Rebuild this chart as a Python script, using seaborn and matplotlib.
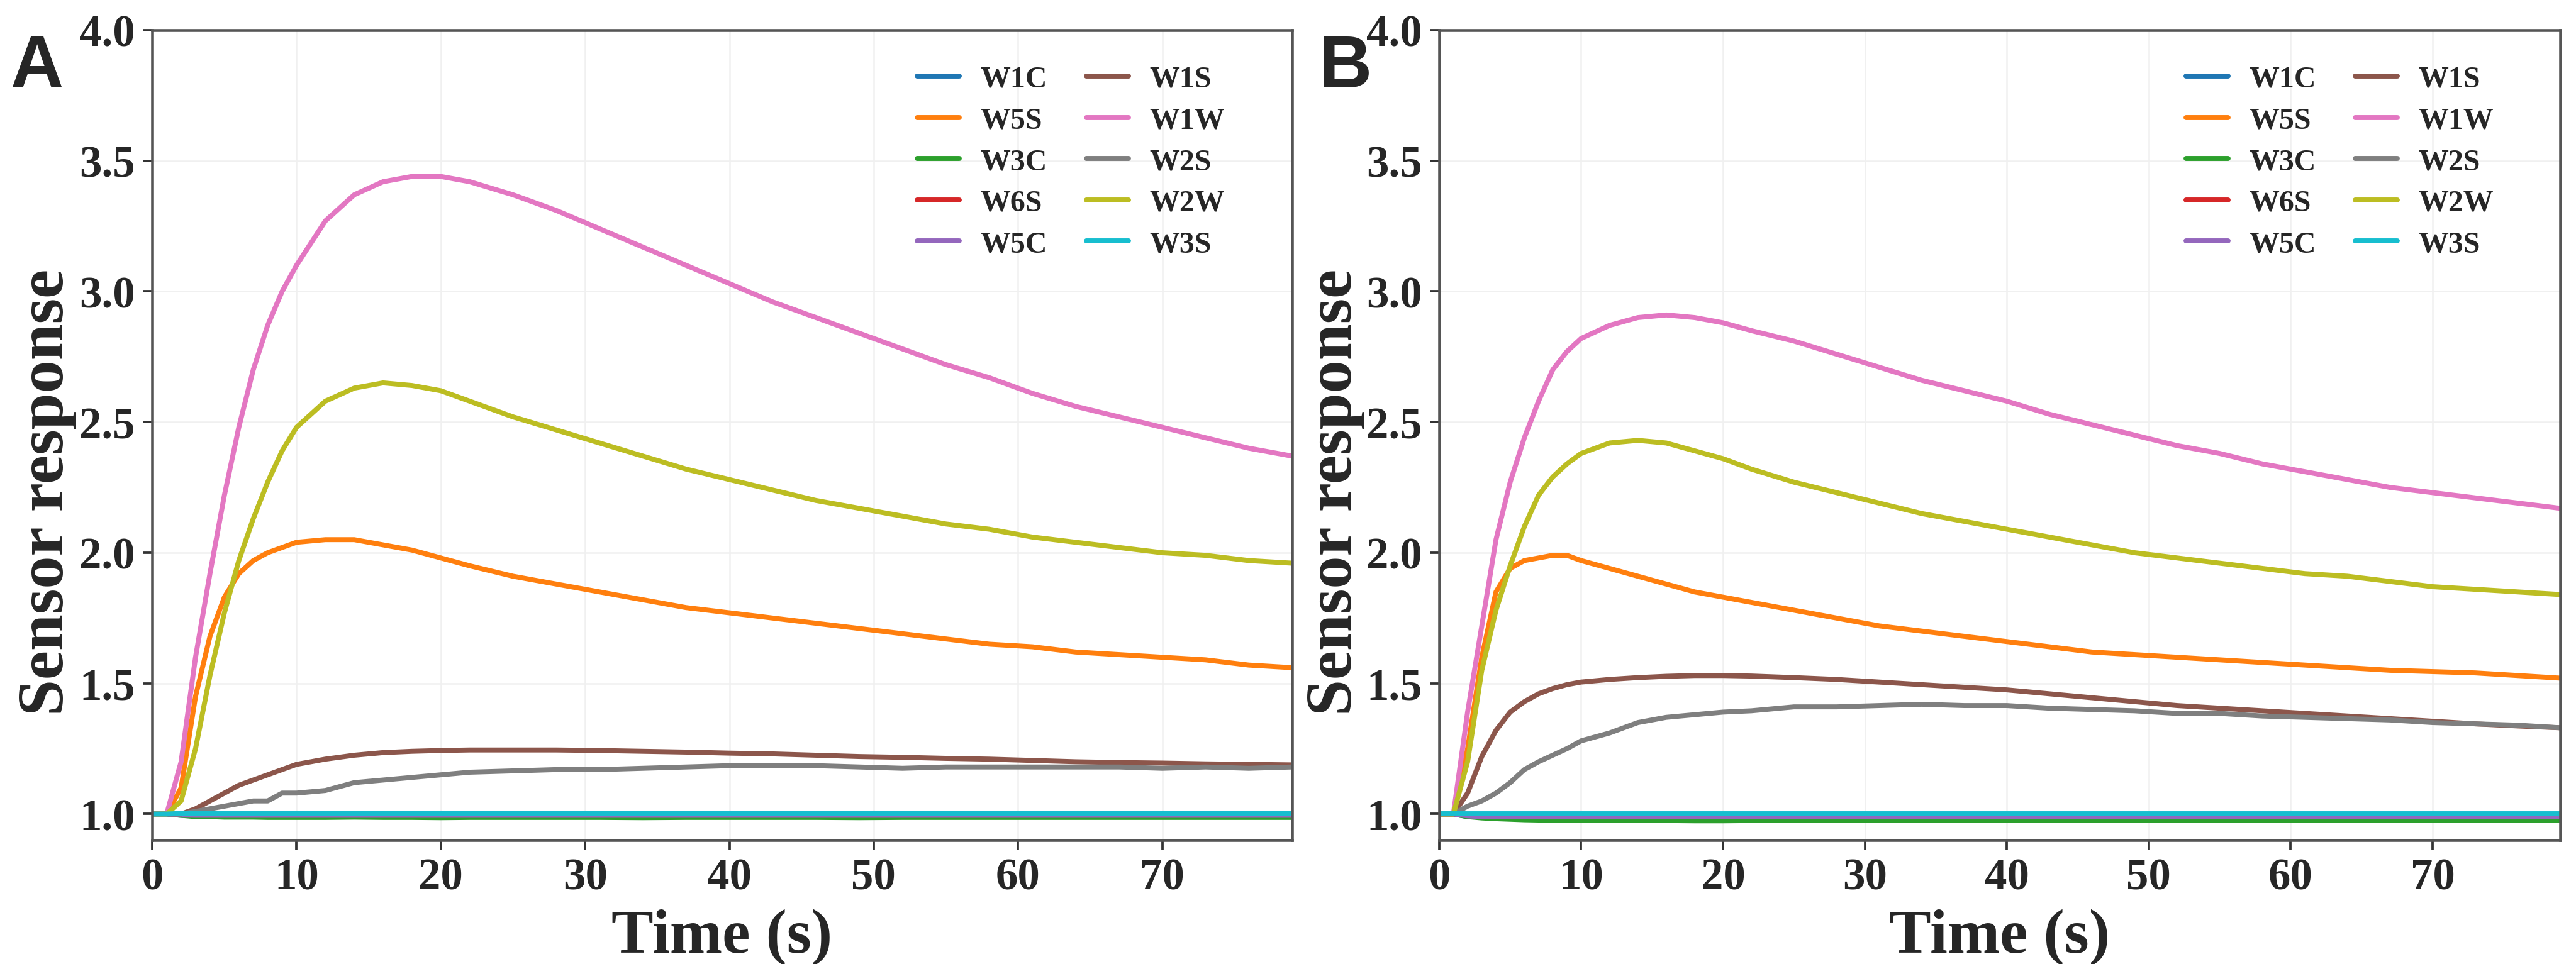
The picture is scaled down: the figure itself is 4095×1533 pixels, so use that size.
import matplotlib
matplotlib.use('Agg')
import matplotlib.pyplot as plt
import seaborn as sns
import pandas as pd

# sample times (s)
time = [0, 1, 2, 3, 4, 5, 6, 7, 8, 9, 10, 12, 14, 16, 18, 20, 22, 25, 28, 31,
        34, 37, 40, 43, 46, 49, 52, 55, 58, 61, 64, 67, 70, 73, 76, 79]

sensors = ['W1C', 'W5S', 'W3C', 'W6S', 'W5C', 'W1S', 'W1W', 'W2S', 'W2W', 'W3S']

# ---- panel A ----
a_W1C = [1.0, 1.0, 0.995, 0.994, 0.994, 0.993, 0.993, 0.993, 0.993, 0.993, 0.993, 0.993, 0.993, 0.993, 0.992, 0.992, 0.993, 0.993,
         0.993, 0.993, 0.993, 0.993, 0.993, 0.993, 0.993, 0.993, 0.993, 0.993, 0.993, 0.993, 0.993, 0.993, 0.993, 0.993, 0.993, 0.993]
a_W5S = [1.0, 1.0, 1.1, 1.45, 1.68, 1.83, 1.92, 1.97, 2.0, 2.02, 2.04, 2.05, 2.05, 2.03, 2.01, 1.98, 1.95, 1.91,
         1.88, 1.85, 1.82, 1.79, 1.77, 1.75, 1.73, 1.71, 1.69, 1.67, 1.65, 1.64, 1.62, 1.61, 1.6, 1.59, 1.57, 1.56]
a_W3C = [1.0, 1.0, 0.995, 0.99, 0.99, 0.988, 0.988, 0.988, 0.987, 0.987, 0.987, 0.987, 0.988, 0.987, 0.987, 0.986, 0.987, 0.987,
         0.987, 0.987, 0.986, 0.987, 0.987, 0.987, 0.987, 0.986, 0.987, 0.987, 0.987, 0.987, 0.987, 0.987, 0.987, 0.987, 0.987, 0.987]
a_W6S = [1.0, 1.0, 0.998, 0.997, 0.997, 0.997, 0.997, 0.997, 0.997, 0.997, 0.997, 0.997, 0.997, 0.997, 0.997, 0.997, 0.997, 0.997,
         0.997, 0.997, 0.997, 0.997, 0.997, 0.997, 0.997, 0.997, 0.997, 0.997, 0.997, 0.997, 0.997, 0.997, 0.997, 0.997, 0.997, 0.997]
a_W5C = [1.0, 1.0, 0.996, 0.995, 0.995, 0.995, 0.995, 0.995, 0.995, 0.995, 0.995, 0.995, 0.995, 0.995, 0.995, 0.995, 0.995, 0.995,
         0.995, 0.995, 0.995, 0.995, 0.995, 0.995, 0.995, 0.995, 0.995, 0.995, 0.995, 0.995, 0.995, 0.995, 0.995, 0.995, 0.995, 0.995]
a_W1S = [1.0, 1.0, 1.0, 1.02, 1.05, 1.08, 1.11, 1.13, 1.15, 1.17, 1.19, 1.21, 1.225, 1.235, 1.24, 1.243, 1.245, 1.245,
         1.245, 1.243, 1.24, 1.237, 1.233, 1.23, 1.225, 1.22, 1.217, 1.213, 1.21, 1.205, 1.2, 1.197, 1.195, 1.192, 1.19, 1.188]
a_W1W = [1.0, 1.0, 1.2, 1.6, 1.92, 2.22, 2.48, 2.7, 2.87, 3.0, 3.1, 3.27, 3.37, 3.42, 3.44, 3.44, 3.42, 3.37,
         3.31, 3.24, 3.17, 3.1, 3.03, 2.96, 2.9, 2.84, 2.78, 2.72, 2.67, 2.61, 2.56, 2.52, 2.48, 2.44, 2.4, 2.37]
a_W2S = [1.0, 1.0, 1.0, 1.01, 1.02, 1.03, 1.04, 1.05, 1.05, 1.08, 1.08, 1.09, 1.12, 1.13, 1.14, 1.15, 1.16, 1.165,
         1.17, 1.17, 1.175, 1.18, 1.185, 1.185, 1.185, 1.18, 1.175, 1.18, 1.18, 1.18, 1.18, 1.18, 1.175, 1.18, 1.175, 1.18]
a_W2W = [1.0, 1.0, 1.05, 1.25, 1.53, 1.77, 1.97, 2.13, 2.27, 2.39, 2.48, 2.58, 2.63, 2.65, 2.64, 2.62, 2.58, 2.52,
         2.47, 2.42, 2.37, 2.32, 2.28, 2.24, 2.2, 2.17, 2.14, 2.11, 2.09, 2.06, 2.04, 2.02, 2.0, 1.99, 1.97, 1.96]
a_W3S = [1.0, 1.0, 1.002, 1.002, 1.002, 1.002, 1.002, 1.002, 1.002, 1.002, 1.002, 1.002, 1.002, 1.002, 1.002, 1.002, 1.002, 1.002,
         1.002, 1.002, 1.002, 1.002, 1.002, 1.002, 1.002, 1.002, 1.002, 1.002, 1.002, 1.002, 1.002, 1.002, 1.002, 1.002, 1.002, 1.002]

# ---- panel B ----
b_W1C = [1.0, 1.0, 0.99, 0.99, 0.988, 0.988, 0.988, 0.988, 0.988, 0.988, 0.988, 0.988, 0.988, 0.988, 0.988, 0.988, 0.988, 0.988,
         0.988, 0.988, 0.988, 0.988, 0.988, 0.988, 0.988, 0.988, 0.988, 0.988, 0.988, 0.988, 0.988, 0.988, 0.988, 0.988, 0.988, 0.988]
b_W5S = [1.0, 1.0, 1.25, 1.6, 1.85, 1.94, 1.97, 1.98, 1.99, 1.99, 1.97, 1.94, 1.91, 1.88, 1.85, 1.83, 1.81, 1.78,
         1.75, 1.72, 1.7, 1.68, 1.66, 1.64, 1.62, 1.61, 1.6, 1.59, 1.58, 1.57, 1.56, 1.55, 1.545, 1.54, 1.53, 1.52]
b_W3C = [1.0, 1.0, 0.99, 0.985, 0.982, 0.98, 0.978, 0.977, 0.976, 0.976, 0.975, 0.975, 0.975, 0.975, 0.974, 0.974, 0.975, 0.975,
         0.975, 0.975, 0.975, 0.975, 0.975, 0.975, 0.976, 0.976, 0.976, 0.976, 0.976, 0.976, 0.976, 0.976, 0.976, 0.976, 0.976, 0.976]
b_W6S = [1.0, 1.0, 0.995, 0.993, 0.993, 0.992, 0.992, 0.992, 0.992, 0.992, 0.992, 0.992, 0.992, 0.992, 0.992, 0.992, 0.992, 0.992,
         0.992, 0.992, 0.992, 0.992, 0.992, 0.992, 0.992, 0.992, 0.992, 0.992, 0.992, 0.992, 0.992, 0.992, 0.992, 0.992, 0.992, 0.992]
b_W5C = [1.0, 1.0, 0.993, 0.99, 0.99, 0.99, 0.99, 0.99, 0.99, 0.99, 0.99, 0.99, 0.99, 0.99, 0.99, 0.99, 0.99, 0.99,
         0.99, 0.99, 0.99, 0.99, 0.99, 0.99, 0.99, 0.99, 0.99, 0.99, 0.99, 0.99, 0.99, 0.99, 0.99, 0.99, 0.99, 0.99]
b_W1S = [1.0, 1.0, 1.08, 1.22, 1.32, 1.39, 1.43, 1.46, 1.48, 1.495, 1.505, 1.515, 1.522, 1.527, 1.53, 1.53, 1.528, 1.522,
         1.515, 1.505, 1.495, 1.485, 1.475, 1.46, 1.445, 1.43, 1.415, 1.405, 1.395, 1.385, 1.375, 1.365, 1.355, 1.345, 1.337, 1.33]
b_W1W = [1.0, 1.0, 1.39, 1.72, 2.05, 2.27, 2.44, 2.58, 2.7, 2.77, 2.82, 2.87, 2.9, 2.91, 2.9, 2.88, 2.85, 2.81,
         2.76, 2.71, 2.66, 2.62, 2.58, 2.53, 2.49, 2.45, 2.41, 2.38, 2.34, 2.31, 2.28, 2.25, 2.23, 2.21, 2.19, 2.17]
b_W2S = [1.0, 1.0, 1.03, 1.05, 1.08, 1.12, 1.17, 1.2, 1.225, 1.25, 1.28, 1.31, 1.35, 1.37, 1.38, 1.39, 1.395, 1.41,
         1.41, 1.415, 1.42, 1.415, 1.415, 1.405, 1.4, 1.395, 1.385, 1.385, 1.375, 1.37, 1.365, 1.36, 1.35, 1.345, 1.34, 1.33]
b_W2W = [1.0, 1.0, 1.2, 1.55, 1.78, 1.95, 2.1, 2.22, 2.29, 2.34, 2.38, 2.42, 2.43, 2.42, 2.39, 2.36, 2.32, 2.27,
         2.23, 2.19, 2.15, 2.12, 2.09, 2.06, 2.03, 2.0, 1.98, 1.96, 1.94, 1.92, 1.91, 1.89, 1.87, 1.86, 1.85, 1.84]
b_W3S = [1.0, 1.0, 1.0, 1.0, 1.0, 1.0, 1.0, 1.0, 1.0, 1.0, 1.0, 1.0, 1.0, 1.0, 1.0, 1.0, 1.0, 1.0,
         1.0, 1.0, 1.0, 1.0, 1.0, 1.0, 1.0, 1.0, 1.0, 1.0, 1.0, 1.0, 1.0, 1.0, 1.0, 1.0, 1.0, 1.0]

panel_a = [a_W1C, a_W5S, a_W3C, a_W6S, a_W5C, a_W1S, a_W1W, a_W2S, a_W2W, a_W3S]
panel_b = [b_W1C, b_W5S, b_W3C, b_W6S, b_W5C, b_W1S, b_W1W, b_W2S, b_W2W, b_W3S]

x_ticks = [0, 10, 20, 30, 40, 50, 60, 70]
y_ticks = [1.0, 1.5, 2.0, 2.5, 3.0, 3.5, 4.0]


def to_frame(series):
    rows = []
    for name, vals in zip(sensors, series):
        for t, v in zip(time, vals):
            rows.append({'time': t, 'value': v, 'sensor': name})
    return pd.DataFrame(rows)


sns.set_style('white')
plt.rcParams['font.family'] = ['Liberation Serif', 'DejaVu Serif']
plt.rcParams['font.weight'] = 'bold'

fig = plt.figure(figsize=(13.65, 5.1133), dpi=300)
ax_a = fig.add_axes([0.0591, 0.1284, 0.4425, 0.8397])
ax_b = fig.add_axes([0.5587, 0.1284, 0.4352, 0.8397])

palette = sns.color_palette('tab10', 10)

for ax, series, letter, lx in [(ax_a, panel_a, 'A', 0.004), (ax_b, panel_b, 'B', 0.512)]:
    df = to_frame(series)
    sns.lineplot(data=df, x='time', y='value', hue='sensor', hue_order=sensors,
                 palette=palette, linewidth=1.9, ax=ax)
    ax.set_xlim(0, 79)
    ax.set_ylim(0.9, 4.0)
    ax.set_xticks(x_ticks)
    ax.set_yticks(y_ticks)
    ax.set_yticklabels([f'{v:.1f}' for v in y_ticks])
    ax.grid(True, color='#f0f0f0', linewidth=0.6)
    for s in ax.spines.values():
        s.set_color('#555555')
        s.set_linewidth(1.1)
    ax.tick_params(axis='both', which='major', direction='out', length=3.5, width=0.9,
                   color='#333333', labelsize=17, pad=3, bottom=True, left=True)
    for lab in ax.get_xticklabels() + ax.get_yticklabels():
        lab.set_fontweight('bold')
    ax.set_xlabel('Time (s)', fontsize=24, fontweight='bold', labelpad=4)
    ax.set_ylabel('Sensor response', fontsize=25, fontweight='bold')
    ax.yaxis.set_label_coords(-0.066, 0.43)
    handles, labels = ax.get_legend_handles_labels()
    ax.legend(handles, labels, ncol=2, loc='upper right', bbox_to_anchor=(0.965, 0.99),
              frameon=False, prop={'size': 11.5, 'weight': 'bold'},
              handlelength=1.4, handletextpad=0.7, columnspacing=1.3, labelspacing=0.45)
    fig.text(lx, 0.965, letter, fontsize=28, fontweight='bold',
             family='Liberation Sans', va='top', ha='left')

fig.savefig('out.png', dpi=300)
